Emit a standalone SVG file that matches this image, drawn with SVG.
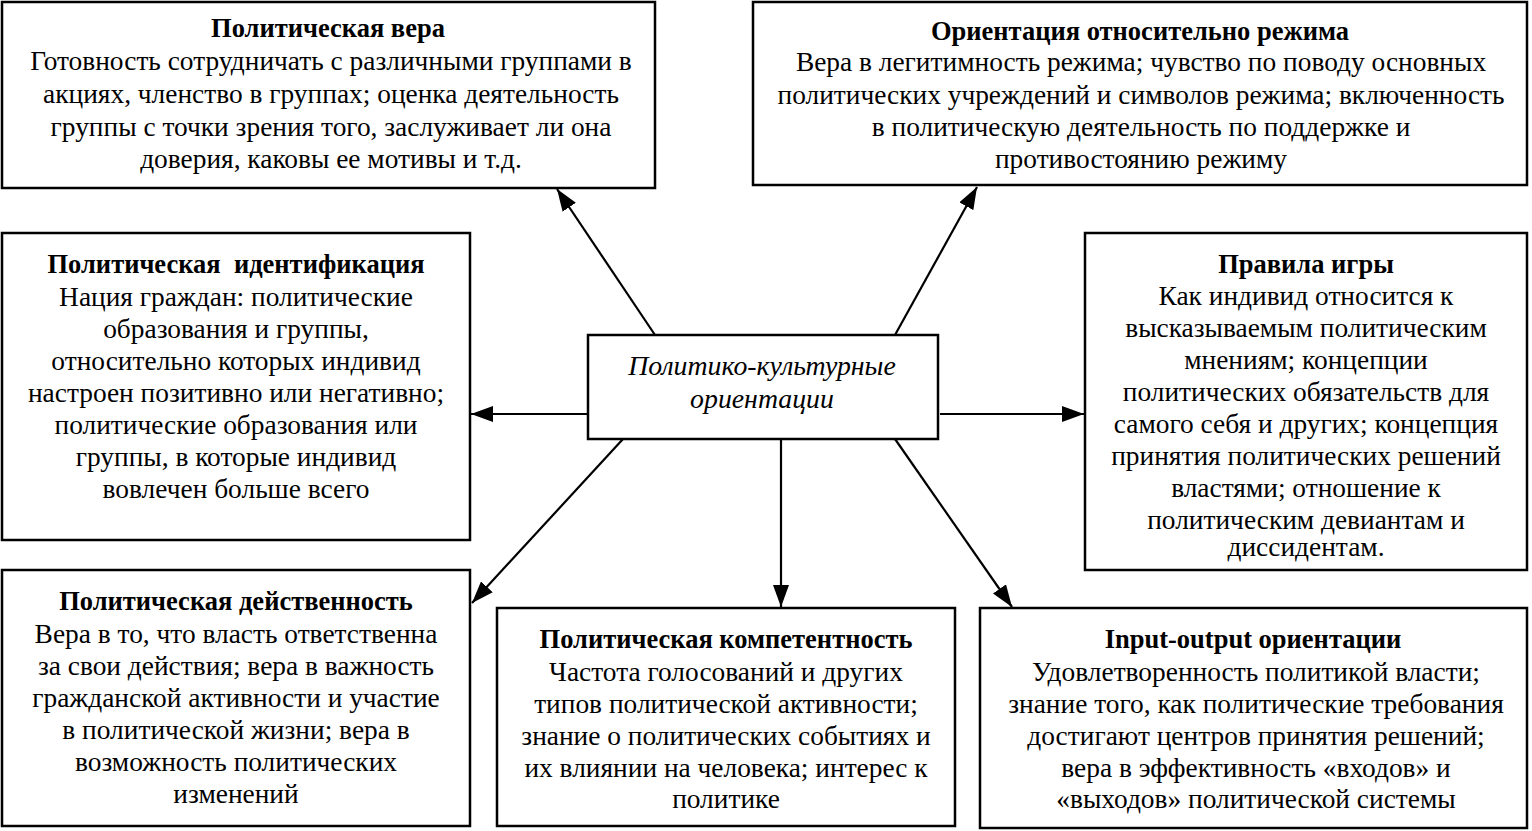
<svg xmlns="http://www.w3.org/2000/svg" width="1532" height="831" viewBox="0 0 1532 831">
<defs>
<style>
.box{fill:#fff;stroke:#000;stroke-width:2.5}
text{font-family:"Liberation Serif","Times New Roman",serif;font-size:27.4px;fill:#000;text-anchor:middle}
.t{font-weight:bold;font-size:26.5px}
.c{font-style:italic;font-size:27.8px}
.ln{stroke:#000;stroke-width:2.2;fill:none;marker-end:url(#ah)}
</style>
<marker id="ah" viewBox="0 0 10 10" refX="10" refY="5" markerWidth="22" markerHeight="16" markerUnits="userSpaceOnUse" orient="auto" preserveAspectRatio="none">
<path d="M0,0 L10,5 L0,10 z" fill="#000"/>
</marker>
</defs>
<rect width="1532" height="831" fill="#fff"/>
<g id="connectors">
<line class="ln" x1="655" y1="335" x2="557" y2="189"/>
<line class="ln" x1="895" y1="335" x2="977" y2="187"/>
<line class="ln" x1="588" y1="414" x2="471" y2="414"/>
<line class="ln" x1="940" y1="414" x2="1084" y2="414"/>
<line class="ln" x1="623" y1="439" x2="472" y2="603"/>
<line class="ln" x1="781" y1="439" x2="781" y2="607"/>
<line class="ln" x1="895" y1="439" x2="1012" y2="607"/>
</g>
<g id="center">
<rect class="box" x="588" y="335" width="350" height="104"/>
<text class="c" x="762" y="375">Политико-культурные</text>
<text class="c" x="762" y="408">ориентации</text>
</g>
<g id="vera">
<rect class="box" x="2" y="2" width="653" height="186"/>
<text class="t" x="328" y="37">Политическая вера</text>
<text x="331" y="70">Готовность сотрудничать с различными группами в</text>
<text x="331" y="103">акциях, членство в группах; оценка деятельность</text>
<text x="331" y="136">группы с точки зрения того, заслуживает ли она</text>
<text x="331" y="168">доверия, каковы ее мотивы и т.д.</text>
</g>
<g id="rezhim">
<rect class="box" x="753" y="2" width="774" height="183"/>
<text class="t" x="1140" y="40">Ориентация относительно режима</text>
<text x="1141" y="71">Вера в легитимность режима; чувство по поводу основных</text>
<text x="1141" y="104">политических учреждений и символов режима; включенность</text>
<text x="1141" y="136">в политическую деятельность по поддержке и</text>
<text x="1141" y="168">противостоянию режиму</text>
</g>
<g id="identifikatsiya">
<rect class="box" x="2" y="233" width="468" height="307"/>
<text class="t" x="236" y="273" xml:space="preserve">Политическая  идентификация</text>
<text x="236" y="306">Нация граждан: политические</text>
<text x="236" y="338">образования и группы,</text>
<text x="236" y="370">относительно которых индивид</text>
<text x="236" y="402">настроен позитивно или негативно;</text>
<text x="236" y="434">политические образования или</text>
<text x="236" y="466">группы, в которые индивид</text>
<text x="236" y="498">вовлечен больше всего</text>
</g>
<g id="pravila">
<rect class="box" x="1085" y="233" width="442" height="337"/>
<text class="t" x="1306" y="273">Правила игры</text>
<text x="1306" y="305">Как индивид относится к</text>
<text x="1306" y="337">высказываемым политическим</text>
<text x="1306" y="369">мнениям; концепции</text>
<text x="1306" y="401">политических обязательств для</text>
<text x="1306" y="433">самого себя и других; концепция</text>
<text x="1306" y="465">принятия политических решений</text>
<text x="1306" y="497">властями; отношение к</text>
<text x="1306" y="529">политическим девиантам и</text>
<text x="1306" y="556">диссидентам.</text>
</g>
<g id="deistvennost">
<rect class="box" x="2" y="570" width="468" height="256"/>
<text class="t" x="236" y="610">Политическая действенность</text>
<text x="236" y="643">Вера в то, что власть ответственна</text>
<text x="236" y="675">за свои действия; вера в важность</text>
<text x="236" y="707">гражданской активности и участие</text>
<text x="236" y="739">в политической жизни; вера в</text>
<text x="236" y="771">возможность политических</text>
<text x="236" y="803">изменений</text>
</g>
<g id="kompetentnost">
<rect class="box" x="497" y="608" width="458" height="218"/>
<text class="t" x="726" y="648">Политическая компетентность</text>
<text x="726" y="681">Частота голосований и других</text>
<text x="726" y="713">типов политической активности;</text>
<text x="726" y="745">знание о политических событиях и</text>
<text x="726" y="777">их влиянии на человека; интерес к</text>
<text x="726" y="808">политике</text>
</g>
<g id="inputoutput">
<rect class="box" x="980" y="608" width="547" height="220"/>
<text class="t" x="1253" y="648">Input-output ориентации</text>
<text x="1256" y="681">Удовлетворенность политикой власти;</text>
<text x="1256" y="713">знание того, как политические требования</text>
<text x="1256" y="745">достигают центров принятия решений;</text>
<text x="1256" y="777">вера в эффективность «входов» и</text>
<text x="1256" y="808">«выходов» политической системы</text>
</g>
</svg>
